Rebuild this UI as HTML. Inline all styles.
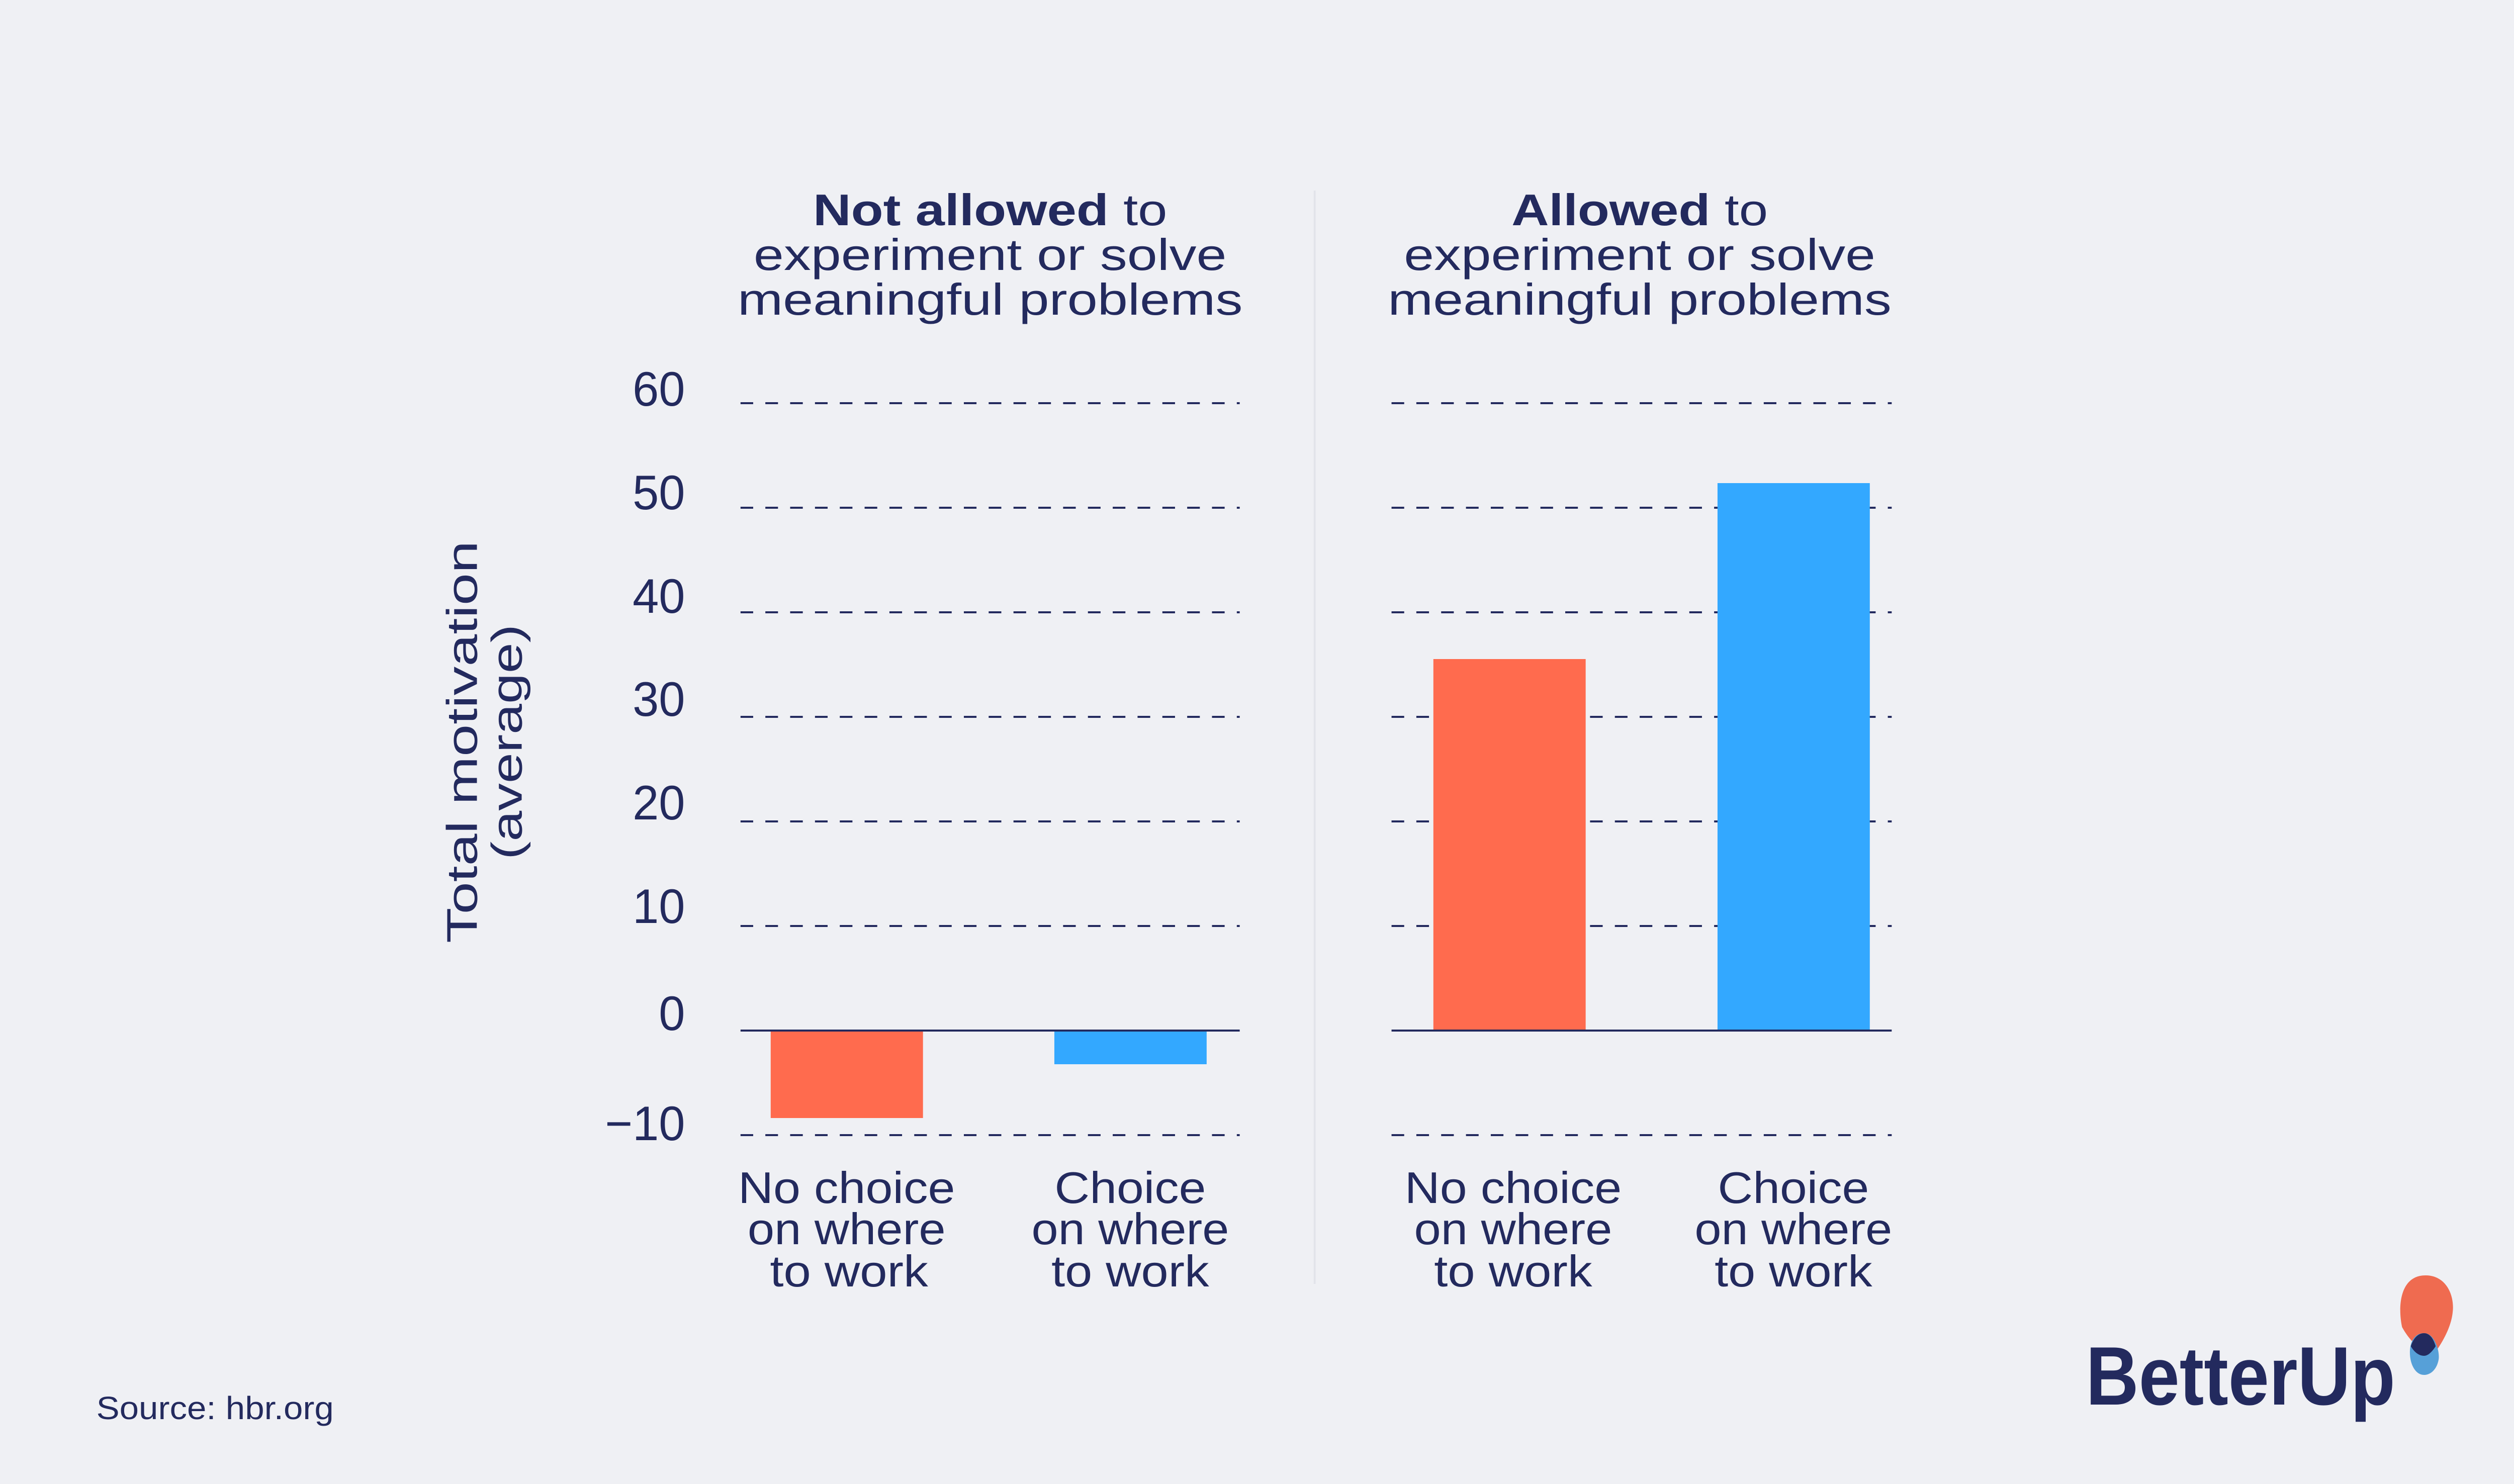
<!DOCTYPE html>
<html><head><meta charset="utf-8"><style>
html,body{margin:0;padding:0;background:#eff0f4;width:100%;height:100%;overflow:hidden;}
svg{display:block;width:100vw;height:100vh;}
text{font-family:"Liberation Sans",sans-serif;fill:#232a5e;}
</style></head><body>
<svg viewBox="0 0 5167 2952" preserveAspectRatio="none" xmlns="http://www.w3.org/2000/svg">
<rect width="5167" height="2952" fill="#eff0f4"/>
<line x1="2702" y1="379" x2="2702" y2="2554" stroke="#e2e4ea" stroke-width="4"/>
<g stroke="#232a5e" stroke-width="4" stroke-dasharray="26 25">
<line x1="1522" y1="802" x2="2548" y2="802"/><line x1="1522" y1="1010" x2="2548" y2="1010"/>
<line x1="1522" y1="1218" x2="2548" y2="1218"/><line x1="1522" y1="1426" x2="2548" y2="1426"/>
<line x1="1522" y1="1634" x2="2548" y2="1634"/><line x1="1522" y1="1842" x2="2548" y2="1842"/>
<line x1="1522" y1="2258" x2="2548" y2="2258"/>
<line x1="2860" y1="802" x2="3888" y2="802"/><line x1="2860" y1="1010" x2="3888" y2="1010"/>
<line x1="2860" y1="1218" x2="3888" y2="1218"/><line x1="2860" y1="1426" x2="3888" y2="1426"/>
<line x1="2860" y1="1634" x2="3888" y2="1634"/><line x1="2860" y1="1842" x2="3888" y2="1842"/>
<line x1="2860" y1="2258" x2="3888" y2="2258"/>
</g>
<rect x="1584" y="2050" width="313" height="174" fill="#ff6b4e"/>
<rect x="2167" y="2050" width="313" height="67" fill="#33a8ff"/>
<rect x="2946" y="1311" width="313" height="739" fill="#ff6b4e"/>
<rect x="3530" y="961" width="313" height="1089" fill="#33a8ff"/>
<line x1="1522" y1="2050" x2="2548" y2="2050" stroke="#232a5e" stroke-width="4"/>
<line x1="2860" y1="2050" x2="3888" y2="2050" stroke="#232a5e" stroke-width="4"/>
<g font-size="97" text-anchor="end">
<text x="1408" y="807">60</text><text x="1408" y="1013">50</text><text x="1408" y="1219">40</text>
<text x="1408" y="1424">30</text><text x="1408" y="1630">20</text><text x="1408" y="1836">10</text>
<text x="1408" y="2049">0</text><text x="1408" y="2268">−10</text>
</g>
<g font-size="88" text-anchor="middle">
<text x="2035" y="448" textLength="728" lengthAdjust="spacingAndGlyphs"><tspan font-weight="bold">Not allowed</tspan> to</text>
<text x="2035" y="537" textLength="972" lengthAdjust="spacingAndGlyphs">experiment or solve</text>
<text x="2035" y="626" textLength="1038" lengthAdjust="spacingAndGlyphs">meaningful problems</text>
<text x="3370" y="448" textLength="527" lengthAdjust="spacingAndGlyphs"><tspan font-weight="bold">Allowed</tspan> to</text>
<text x="3370" y="537" textLength="969" lengthAdjust="spacingAndGlyphs">experiment or solve</text>
<text x="3370" y="626" textLength="1035" lengthAdjust="spacingAndGlyphs">meaningful problems</text>
<text x="1740" y="2393" textLength="446" lengthAdjust="spacingAndGlyphs">No choice</text>
<text x="1740" y="2475" textLength="407" lengthAdjust="spacingAndGlyphs">on where</text>
<text x="1745" y="2559" textLength="325" lengthAdjust="spacingAndGlyphs">to work</text>
<text x="2323" y="2393" textLength="311" lengthAdjust="spacingAndGlyphs">Choice</text>
<text x="2323" y="2475" textLength="406" lengthAdjust="spacingAndGlyphs">on where</text>
<text x="2323" y="2559" textLength="324" lengthAdjust="spacingAndGlyphs">to work</text>
<text x="3110" y="2393" textLength="446" lengthAdjust="spacingAndGlyphs">No choice</text>
<text x="3110" y="2475" textLength="407" lengthAdjust="spacingAndGlyphs">on where</text>
<text x="3110" y="2559" textLength="325" lengthAdjust="spacingAndGlyphs">to work</text>
<text x="3686" y="2393" textLength="311" lengthAdjust="spacingAndGlyphs">Choice</text>
<text x="3686" y="2475" textLength="406" lengthAdjust="spacingAndGlyphs">on where</text>
<text x="3686" y="2559" textLength="324" lengthAdjust="spacingAndGlyphs">to work</text>
</g>
<g font-size="88" text-anchor="middle">
<text transform="translate(980,1476) rotate(-90)" textLength="800" lengthAdjust="spacingAndGlyphs">Total motivation</text>
<text transform="translate(1072,1476) rotate(-90)" textLength="468" lengthAdjust="spacingAndGlyphs">(average)</text>
</g>
<text x="198" y="2823" font-size="64" textLength="488" lengthAdjust="spacingAndGlyphs">Source: hbr.org</text>
<text x="4287" y="2794" font-size="165" font-weight="bold" textLength="636" lengthAdjust="spacingAndGlyphs">BetterUp</text>
<path d="M4985 2537 C5030 2537 5045 2580 5041 2610 C5038 2640 5020 2670 5005 2690 C4985 2690 4960 2680 4937 2640 C4928 2600 4932 2537 4985 2537 Z" fill="#ef6b50"/>
<path d="M4982 2652 C5005 2652 5015 2690 5012 2705 C5008 2725 4995 2735 4982 2735 C4965 2735 4953 2715 4953 2690 C4953 2670 4962 2652 4982 2652 Z" fill="#56a0d8"/>
<path d="M4982 2652 C4995 2652 5002 2665 5006 2678 C4998 2690 4990 2697 4982 2697 C4972 2697 4962 2690 4955 2678 C4960 2662 4970 2652 4982 2652 Z" fill="#232a5e"/>
</svg>
</body></html>
